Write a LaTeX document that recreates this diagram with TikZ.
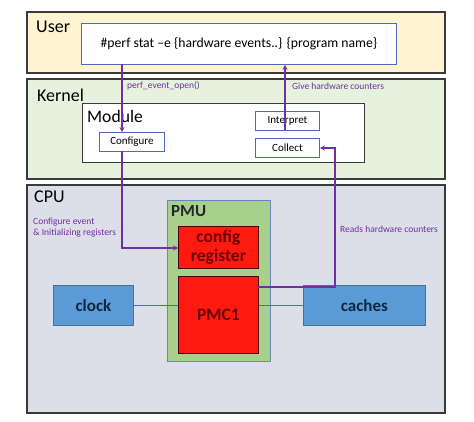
\documentclass[tikz,border=0pt]{standalone}
\usepackage{fontspec}
\setmainfont{Carlito}
\usetikzlibrary{arrows.meta}
\definecolor{userfill}{HTML}{FFF3D2}
\definecolor{kernfill}{HTML}{E6F2DE}
\definecolor{cpufill}{HTML}{DCDEE8}
\definecolor{pmufill}{HTML}{A8D08D}
\definecolor{pmuedge}{HTML}{6A86B8}
\definecolor{redfill}{HTML}{FF1A10}
\definecolor{redtext}{HTML}{6B0000}
\definecolor{bluefill}{HTML}{5B9BD5}
\definecolor{blueedge}{HTML}{41719C}
\definecolor{navytext}{HTML}{0E2841}
\definecolor{purp}{HTML}{7030A0}
\definecolor{smalledge}{HTML}{4A6EB0}
\definecolor{frame}{HTML}{3A3A3A}
\begin{document}
\begin{tikzpicture}[x=1pt,y=-1pt,
  layer/.style={draw=frame,line width=1.2pt},
  small/.style={draw=smalledge,line width=0.9pt,fill=white,font=\fontsize{11}{13}\selectfont},
  redbox/.style={draw=redtext!70!black,line width=0.9pt,fill=redfill,text=redtext,font=\fontsize{17.5}{19}\selectfont\bfseries,align=center},
  bluebox/.style={draw=blueedge,line width=0.9pt,fill=bluefill,text=navytext,font=\fontsize{17}{19}\selectfont\bfseries},
  arr/.style={draw=purp,line width=1.5pt,-{Stealth[length=5pt,width=5pt]}},
  lab/.style={text=purp,font=\fontsize{9.5}{11}\selectfont,inner sep=0pt},
  title/.style={font=\fontsize{18}{20}\selectfont,inner sep=0pt,anchor=west}]
\useasboundingbox (0,0) rectangle (474,422);
\fill[white] (0,0) rectangle (474,422);
% layers
\draw[layer,fill=userfill] (27,12) rectangle (445,73);
\draw[layer,fill=kernfill] (27,79) rectangle (445,179);
\draw[layer,fill=cpufill] (27,185) rectangle (445,413);
\node[title] (userlab) at (36,27) {User};
\node[title] (kernlab) at (37,95) {Kernel};
\node[title] (cpulab) at (34,197) {CPU};
% user command
\node[draw=smalledge,line width=0.9pt,fill=white,minimum width=315pt,minimum height=41pt,font=\fontsize{13.7}{16}\selectfont,anchor=north west] (cmd) at (81,23) {\#perf stat –e \{hardware events..\} \{program name\}};
% module
\node[draw=frame,line width=1pt,fill=white,minimum width=282pt,minimum height=59pt,anchor=north west,inner sep=0pt] (module) at (82,103) {};
\node[font=\fontsize{17.6}{19}\selectfont,inner sep=0pt,anchor=west] (modlab) at (87,116) {Module};
\node[small,minimum width=65pt,minimum height=19pt,anchor=north west,inner sep=0pt] (conf) at (99,132) {Configure};
\node[small,minimum width=64pt,minimum height=19pt,anchor=north west,inner sep=0pt] (interp) at (255,111) {Interpret};
\node[small,minimum width=64pt,minimum height=19pt,anchor=north west,inner sep=0pt] (collect) at (255,138) {Collect};
% PMU
\node[draw=pmuedge,line width=0.9pt,fill=pmufill,minimum width=103pt,minimum height=161pt,anchor=north west,inner sep=0pt] (pmu) at (167,200) {};
\node[font=\fontsize{17}{19}\selectfont\bfseries,text=black!85,inner sep=0pt,anchor=west] (pmulab) at (171,211) {PMU};
\node[redbox,minimum width=80pt,minimum height=42pt,anchor=north west,inner sep=0pt] (creg) at (178,226) {config\\register};
\node[redbox,minimum width=80pt,minimum height=77pt,anchor=north west,inner sep=0pt] (pmc) at (178,276) {PMC1};
\node[bluebox,minimum width=80pt,minimum height=40pt,anchor=north west,inner sep=0pt] (clock) at (53,285) {clock};
\node[bluebox,minimum width=122pt,minimum height=40pt,anchor=north west,inner sep=0pt] (caches) at (303,285) {caches};
% blue wires
\draw[draw=smalledge,line width=0.8pt] (clock.east) -- (clock.east -| pmc.west);
\draw[draw=smalledge,line width=0.8pt] (caches.west) -- (caches.west -| pmc.east);
% purple arrows
\coordinate (a1) at (122,64);
\draw[arr] (a1) -- (a1 |- conf.north);
\coordinate (a2) at (122,151);
\coordinate (a2b) at (122,248);
\draw[arr] (a2) -- (a2b) -- (a2b -| creg.west);
\coordinate (a3) at (285,130);
\draw[arr] (a3) -- (a3 |- cmd.south);
\coordinate (a4) at (258,287);
\coordinate (a4b) at (335,287);
\draw[arr] (a4) -- (a4b) -- (a4b |- collect.east) -- (collect.east);
% labels
\node[lab,anchor=west] (l1) at (127,86) {perf\_event\_open()};
\node[lab,anchor=west] (l2) at (292,86) {Give hardware counters};
\node[lab,anchor=north west,align=left] (l3) at (33,218) {Configure event\\\& Initializing registers};
\node[lab,anchor=west] (l4) at (340,229) {Reads hardware counters};
\end{tikzpicture}
\end{document}
